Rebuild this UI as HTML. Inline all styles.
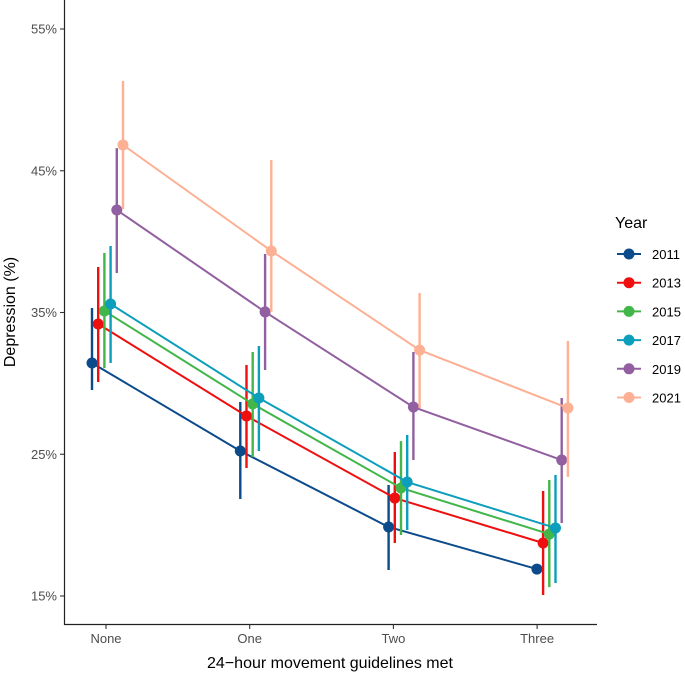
<!DOCTYPE html>
<html><head><meta charset="utf-8"><style>
body{margin:0;background:#fff;font-family:"Liberation Sans",sans-serif}
svg text{font-family:"Liberation Sans",sans-serif}
</style></head><body>
<svg id="c" width="685" height="674"></svg>
<script>
const categories=["None","One","Two","Three"];
const years=["2011","2013","2015","2017","2019","2021"];
const colors=["#0b4a8b","#ee0f0f","#43b649","#0d9ebc","#9260a0","#fdb093"];
const v2011=[31.44,25.23,19.87,16.90];
const lo2011=[29.53,21.84,16.83,16.6];
const hi2011=[35.32,28.69,22.83,17.2];
const v2013=[34.19,27.70,21.91,18.74];
const lo2013=[30.10,24.03,18.74,15.07];
const hi2013=[38.21,31.30,25.16,22.41];
const v2015=[35.11,28.55,22.62,19.37];
const lo2015=[31.08,24.81,19.30,15.63];
const hi2015=[39.20,32.21,25.93,23.18];
const v2017=[35.60,28.97,23.04,19.80];
const lo2017=[31.44,25.23,19.66,15.92];
const hi2017=[39.69,32.64,26.36,23.54];
const v2019=[42.23,35.04,28.33,24.59];
const lo2019=[37.79,30.94,24.59,20.15];
const hi2019=[46.60,39.13,32.21,28.97];
const v2021=[46.82,39.34,32.35,28.26];
const lo2021=[42.30,35.04,28.26,23.40];
const hi2021=[51.33,45.76,36.38,32.99];
const yTicks=[15,25,35,45,55];
const yTickLabels=["15%","25%","35%","45%","55%"];
const vals=[v2011,v2013,v2015,v2017,v2019,v2021];
const los=[lo2011,lo2013,lo2015,lo2017,lo2019,lo2021];
const his=[hi2011,hi2013,hi2015,hi2017,hi2019,hi2021];

const svg=document.getElementById('c');const NS='http://www.w3.org/2000/svg';
function mk(t,a,p){const e=document.createElementNS(NS,t);for(const k in a)e.setAttribute(k,a[k]);(p||svg).appendChild(e);return e;}
const y=v=>596-(v-15)*14.175;
const xTick=i=>106+143.7*i;
const xPt=(i,j)=>107.5+148.3*i+(j-2.5)*6.2;

// axes
const ax=mk('path',{d:'M64.5,0V624.5H597',fill:'none',stroke:'#222','stroke-width':1.2});


yTicks.forEach((t,k)=>{
  const l=mk('line',{x1:60,x2:64.5,y1:y(t),y2:y(t),stroke:'#333','stroke-width':1.1});
  
  
  const tx=mk('text',{x:57,y:y(t)+4.5,'text-anchor':'end','font-size':13,fill:'#4d4d4d'});
  tx.textContent=yTickLabels[k];
  
  
});
categories.forEach((c,i)=>{
  const l=mk('line',{x1:xTick(i),x2:xTick(i),y1:624.5,y2:629,stroke:'#333','stroke-width':1.1});
  
  
  const tx=mk('text',{x:xTick(i),y:643,'text-anchor':'middle','font-size':13,fill:'#4d4d4d'});
  tx.textContent=c;
  
  
});
const xt=mk('text',{x:330,y:668,'text-anchor':'middle','font-size':16,fill:'#000'});
xt.textContent='24\u2212hour movement guidelines met';


const yt=mk('text',{x:0,y:0,'text-anchor':'middle','font-size':16,fill:'#000',transform:'translate(15,312) rotate(-90)'});
yt.textContent='Depression (%)';



// series
years.forEach((yr,j)=>{
  const g=mk('g',{});
  
  
  const d=vals[j].map((v,i)=>(i?'L':'M')+xPt(i,j)+','+y(v)).join('');
  const p=mk('path',{d:d,fill:'none',stroke:colors[j],'stroke-width':2},g);
  
  
  vals[j].forEach((v,i)=>{
    const e=mk('line',{x1:xPt(i,j),x2:xPt(i,j),y1:y(los[j][i]),y2:y(his[j][i]),stroke:colors[j],'stroke-width':2.4},g);
    
    
  });
  vals[j].forEach((v,i)=>{
    const c=mk('circle',{cx:xPt(i,j),cy:y(v),r:5.5,fill:colors[j]},g);
    
    
  });
});

// legend
const lg=mk('g',{});


const lt=mk('text',{x:615,y:228,'font-size':16,fill:'#000'},lg);
lt.textContent='Year';


years.forEach((yr,j)=>{
  const yy=254+28.7*j;
  const e=mk('g',{},lg);
  
  
  mk('line',{x1:617,x2:641,y1:yy,y2:yy,stroke:colors[j],'stroke-width':2},e);
  mk('circle',{cx:629,cy:yy,r:5.5,fill:colors[j]},e);
  const t=mk('text',{x:652,y:yy+5,'font-size':13,fill:'#000'},e);
  t.textContent=yr;
});
</script>
</body></html>
